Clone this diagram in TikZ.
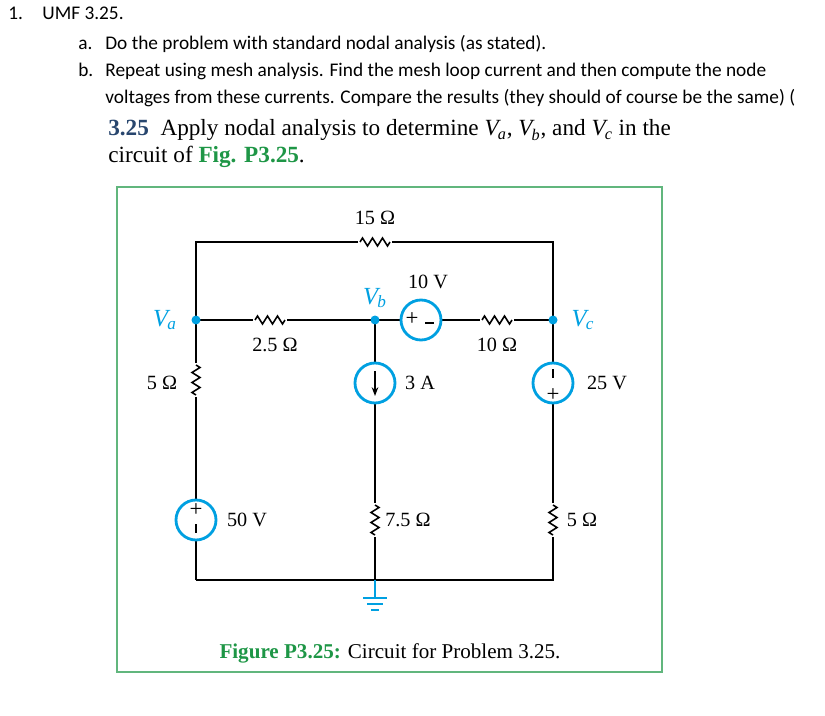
\documentclass[tikz,border=0pt]{standalone}
\usepackage{fontspec}
\setmainfont{Liberation Serif}
\newfontfamily\calfont{Carlito}
\usetikzlibrary{arrows.meta}
\definecolor{srcblue}{RGB}{0,160,225}
\definecolor{figgreen}{RGB}{30,150,70}
\definecolor{numblue}{RGB}{40,70,110}
\newcommand{\nodev}[1]{\textit{V\kern-0.5pt\textsubscript{#1}}}
\tikzset{
  wire/.style={line width=1.3pt},
  srcring/.style={circle,draw=srcblue,line width=1.6pt,fill=white,minimum size=40*0.02cm,inner sep=0pt},
  dot/.style={circle,fill=srcblue,minimum size=9*0.02cm,inner sep=0pt},
  lbl/.style={font=\fontsize{11.5}{13}\selectfont,inner sep=1pt},
  vlbl/.style={font=\fontsize{14}{14}\selectfont,text=srcblue,inner sep=1pt},
  txt/.style={font=\calfont\fontsize{11}{13}\selectfont,anchor=base west,inner sep=0pt},
  res/.pic={\draw[line width=0.9pt] (-15,0) -- (-12.5,-4) -- (-7.5,4) -- (-2.5,-4) -- (2.5,4) -- (7.5,-4) -- (12.5,4) -- (15,0);}
}
\begin{document}
\begin{tikzpicture}[x=0.02cm,y=-0.02cm]
\useasboundingbox (0,0) rectangle (825,716);
% problem text
\node[txt] (n1) at (8,20) {1.\quad UMF 3.25.};
\node[txt] (na) at (78,50) {a.};
\node[txt] (ta) at (105,50) {Do the problem with standard nodal analysis (as stated).};
\node[txt] (nb) at (78,77) {b.};
\node[txt] (tb) at (105,77) {Repeat using mesh analysis. Find the mesh loop current and then compute the node};
\node[txt] (tc) at (105,104) {voltages from these currents. Compare the results (they should of course be the same) (};
\node[anchor=base west,inner sep=0pt,font=\fontsize{13.2}{16}\selectfont] (q1) at (108,136) {\textcolor{numblue}{\textbf{3.25}}\enspace Apply nodal analysis to determine \nodev{a}, \nodev{b}, and \nodev{c} in the};
\node[anchor=base west,inner sep=0pt,font=\fontsize{13.2}{16}\selectfont] (q2) at (108,163) {circuit of \textcolor{figgreen}{\textbf{Fig. P3.25}}.};
% frame
\draw[figgreen!70,line width=0.8pt] (117,187) rectangle (662,672);
% corners and nodes
\coordinate (tl) at (196,242); \coordinate (tr) at (553,242);
\coordinate (bl) at (196,580); \coordinate (br) at (553,580);
\coordinate (bm) at (375,580);
\coordinate (va) at (196,320); \coordinate (vb) at (375,320); \coordinate (vc) at (553,320);
% wires
\draw[wire] (bl) -- (tl) -- (tr) -- (br) -- (bl);
\draw[wire] (va) -- (vc);
\draw[wire] (vb) -- (bm);
% resistors
\fill[white] (358,236) rectangle (392,248); \pic at (375,242) {res};
\fill[white] (253,314) rectangle (287,326); \pic at (270,320) {res};
\fill[white] (480,314) rectangle (514,326); \pic at (497,320) {res};
\fill[white] (190,363) rectangle (202,397); \pic[rotate=90] at (196,380) {res};
\fill[white] (369,503) rectangle (381,537); \pic[rotate=90] at (375,520) {res};
\fill[white] (547,503) rectangle (559,537); \pic[rotate=90] at (553,520) {res};
% sources
\node[srcring] (s10) at (421,320) {};
\node[font=\fontsize{13}{13}\selectfont] at (412,319) {+};
\draw[line width=0.8pt] (425,323) -- (434,323);
\node[srcring] (s3) at (375,383) {};
\draw[line width=0.9pt,-{Stealth[length=5pt]}] (375,371) -- (375,396);
\node[srcring] (s50) at (196,520) {};
\node[font=\fontsize{13}{13}\selectfont] at (196,510) {+};
\draw[line width=0.8pt] (196,524) -- (196,533);
\node[srcring] (s25) at (553,383) {};
\draw[line width=0.8pt] (553,369) -- (553,378);
\node[font=\fontsize{13}{13}\selectfont] at (553,395) {+};
% node dots
\node[dot] (dva) at (va) {}; \node[dot] (dvb) at (vb) {}; \node[dot] (dvc) at (vc) {};
% ground
\draw[srcblue,line width=1.2pt] (bm) -- (375,598);
\draw[srcblue,line width=1.2pt] (363,598) -- (387,598) (367,604) -- (383,604) (371,610) -- (379,610);
% labels
\node[lbl] at (375,218) {15 Ω};
\node[vlbl] at (165,320) {\nodev{a}};
\node[vlbl] at (375,298) {\nodev{b}};
\node[vlbl] at (583,320) {\nodev{c}};
\node[lbl] at (428,282) {10 V};
\node[lbl] at (275,345) {2.5 Ω};
\node[lbl] at (497,345) {10 Ω};
\node[lbl] at (162,383) {5 Ω};
\node[lbl] at (420,383) {3 A};
\node[lbl] at (607,383) {25 V};
\node[lbl] at (247,520) {50 V};
\node[lbl] at (408,520) {7.5 Ω};
\node[lbl] at (582,520) {5 Ω};
\node[font=\fontsize{12}{14}\selectfont] (cap) at (390,653) {\textcolor{figgreen}{\textbf{Figure P3.25:}} Circuit for Problem 3.25.};
\end{tikzpicture}
\end{document}
